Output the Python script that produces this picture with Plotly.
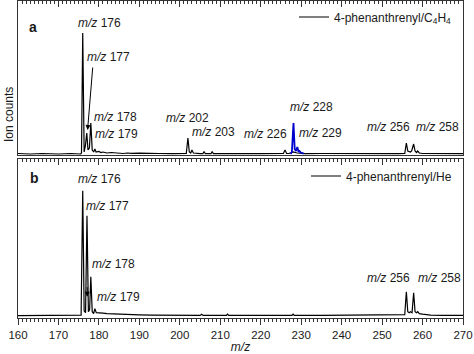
import plotly.graph_objects as go

# ---------------- data ----------------
# Panel a: 4-phenanthrenyl / C4H4 (black trace)
mz_a = [160, 163, 166, 170, 173, 175.5, 175.7, 176, 176.35, 176.65, 177, 177.3, 177.65, 178,
        178.35, 178.7, 179, 179.3, 180, 180.5, 181, 182, 183, 184, 185, 186, 187, 188, 190, 192,
        195, 198, 201.6, 202, 202.35, 202.7, 203, 203.35, 204, 205, 205.7, 206, 206.3, 207.7,
        208, 208.3, 210, 213, 216, 220, 224, 225.6, 226, 226.4, 227, 228, 229, 230, 231, 235,
        240, 245, 250, 254, 255.6, 256, 256.35, 256.7, 257, 257.3, 257.8, 258.15, 258.5, 258.8,
        259.2, 260, 265, 270]
counts_a = [0.5, 0, 0.5, 0, 0.5, 0, 1, 121, 2, 8, 21, 4, 6, 31,
            4, 2, 5, 2, 2.5, 1.5, 2, 1, 1.5, 1, 1.2, 0.5, 1, 0.6, 0.8, 0.4,
            0.5, 0.3, 0.5, 16, 2, 1, 4, 1, 0.5, 0.3, 0.3, 2.5, 0.3, 0.3,
            2.5, 0.3, 0.5, 0.2, 0.4, 0.3, 0.4, 0.5, 4, 0.5, 0.5, 2, 1, 0.5, 0.3, 0.5,
            0.3, 0.4, 0.3, 0.4, 0.5, 11, 3, 2, 2, 3, 10, 3, 1.5, 3,
            1, 0.5, 0.3, 0.3]

# Panel a: highlighted m/z 228-230 region (blue trace)
mz_a_blue = [227.4, 227.7, 228.1, 228.4, 228.7, 229.05, 229.35, 229.6, 229.9, 230.2, 230.6]
counts_a_blue = [0, 2, 31, 5, 3, 7, 2, 3, 1.5, 0.8, 0.3]

# Panel b: 4-phenanthrenyl / He
mz_b = [160, 165, 170, 175, 175.6, 176, 176.35, 176.7, 177.05, 177.4, 177.7, 178, 178.35, 178.7,
        179, 179.35, 180, 181, 182, 183, 184, 186, 188, 190, 193, 196, 200, 205, 205.4, 205.8,
        211.5, 211.8, 212.1, 220, 227.7, 228, 228.3, 235, 245, 250, 254, 255.6, 256, 256.35,
        256.7, 257, 257.4, 257.8, 258.15, 258.5, 258.8, 259.2, 260, 261, 262, 265, 270]
counts_b = [0, 0.3, 0, 0.3, 0.5, 125, 5, 3, 100, 4, 6, 39, 4, 2,
            7, 3, 3, 2.5, 2, 1.8, 1.5, 1.2, 1, 0.8, 0.6, 0.5, 0.3, 0.3, 1.5, 0.3,
            0.3, 1.5, 0.3, 0.3, 0.3, 1.5, 0.3, 0.3, 0.3, 0.3, 0.5, 1, 24, 4,
            3, 4, 3, 23, 4, 3, 4, 2, 1.5, 1, 0.5, 0.3, 0.3]

# peak labels: (m/z text, x position, y position)
labels_a = [("176", 180.2, 131), ("177", 182.3, 97), ("178", 184.0, 37), ("179", 184.4, 20),
            ("202", 202.0, 36), ("203", 208.4, 22), ("226", 221.2, 20), ("228", 232.5, 47),
            ("229", 234.8, 21), ("256", 251.7, 27), ("258", 263.8, 27)]
labels_b = [("176", 180.2, 137), ("177", 182.2, 110), ("178", 183.6, 52), ("179", 184.8, 19),
            ("256", 251.7, 38), ("258", 264.2, 38)]

legend_a = "4-phenanthrenyl/C<sub>4</sub>H<sub>4</sub>"
legend_b = "4-phenanthrenyl/He"

# ---------------- figure ----------------
FONT = "Liberation Sans, Arial, sans-serif"
TXT = "#1a1a1a"
AX = "#333333"

fig = go.Figure()
fig.add_trace(go.Scatter(x=mz_a, y=counts_a, mode="lines", name=legend_a,
                         line=dict(color="black", width=1.2), xaxis="x", yaxis="y",
                         legend="legend"))
fig.add_trace(go.Scatter(x=mz_a_blue, y=counts_a_blue, mode="lines", showlegend=False,
                         line=dict(color="#0000cc", width=1.8), xaxis="x", yaxis="y"))
fig.add_trace(go.Scatter(x=mz_b, y=counts_b, mode="lines", name=legend_b,
                         line=dict(color="black", width=1.2), xaxis="x2", yaxis="y2",
                         legend="legend2"))
# invisible traces so the top tick axes are drawn
fig.add_trace(go.Scatter(x=[160], y=[0], mode="markers", marker=dict(opacity=0),
                         showlegend=False, hoverinfo="skip", xaxis="x3", yaxis="y"))
fig.add_trace(go.Scatter(x=[160], y=[0], mode="markers", marker=dict(opacity=0),
                         showlegend=False, hoverinfo="skip", xaxis="x4", yaxis="y2"))

H = 354
t, b = 1, 36
plot_h = H - t - b
top_px = 318


def frac(py):
    return (top_px - py) / plot_h


xr = [160, 270]
common_x = dict(range=xr, showline=True, linecolor=AX, linewidth=1, showgrid=False,
                zeroline=False, dtick=10, tick0=160)

fig.update_layout(
    width=474, height=354,
    margin=dict(l=18, r=11, t=t, b=b),
    paper_bgcolor="white", plot_bgcolor="white",
    font=dict(family=FONT, size=12, color=TXT),
    xaxis=dict(**common_x, anchor="y", ticks="", showticklabels=False),
    xaxis3=dict(**common_x, anchor="y", overlaying="x", side="top", ticks="inside",
                ticklen=6, tickcolor=AX, showticklabels=False,
                minor=dict(dtick=1, ticks="inside", ticklen=3, tickcolor=AX)),
    xaxis2=dict(**common_x, anchor="y2", ticks="outside", ticklen=6, tickcolor=AX,
                tickfont=dict(size=11.5, color=TXT),
                minor=dict(dtick=1, ticks="outside", ticklen=3, tickcolor=AX),
                title=dict(text="<i>m/z</i>", font=dict(size=12, color=TXT), standoff=2)),
    xaxis4=dict(**common_x, anchor="y2", overlaying="x2", side="top", ticks="inside",
                ticklen=6, tickcolor=AX, showticklabels=False,
                minor=dict(dtick=1, ticks="inside", ticklen=3, tickcolor=AX)),
    yaxis=dict(domain=[frac(155), 1.0], range=[-1, 153], showline=True, mirror=True,
               linecolor=AX, linewidth=1, ticks="", showticklabels=False,
               showgrid=False, zeroline=False),
    yaxis2=dict(domain=[0, frac(159)], range=[-2.3, 156.7], showline=True, mirror=True,
                linecolor=AX, linewidth=1, ticks="", showticklabels=False,
                showgrid=False, zeroline=False),
    legend=dict(x=(457 - 18) / 445, xanchor="right", y=frac(17), yanchor="middle",
                bgcolor="rgba(0,0,0,0)", font=dict(size=12, color=TXT),
                tracegroupgap=0, itemwidth=30),
    legend2=dict(x=(457 - 18) / 445, xanchor="right", y=frac(176), yanchor="middle",
                 bgcolor="rgba(0,0,0,0)", font=dict(size=12, color=TXT),
                 tracegroupgap=0, itemwidth=30),
)

ann = []
for txt, x, y in labels_a:
    ann.append(dict(x=x, y=y, xref="x", yref="y", text="<i>m/z</i> " + txt,
                    showarrow=False, font=dict(size=12, color=TXT)))
for txt, x, y in labels_b:
    ann.append(dict(x=x, y=y, xref="x2", yref="y2", text="<i>m/z</i> " + txt,
                    showarrow=False, font=dict(size=12, color=TXT)))
# arrows
ann.append(dict(x=177.2, y=24, ax=178.5, ay=88, xref="x", yref="y", axref="x", ayref="y",
                text="", showarrow=True, arrowhead=2, arrowsize=1, arrowwidth=1,
                arrowcolor="black"))
ann.append(dict(x=177.1, y=19, ax=177.1, ay=30, xref="x2", yref="y2", axref="x2", ayref="y2",
                text="", showarrow=True, arrowhead=2, arrowsize=1, arrowwidth=1,
                arrowcolor="black"))
# panel letters
ann.append(dict(x=(27 - 18) / 445, y=frac(17), xref="paper", yref="paper", text="<b>a</b>",
                showarrow=False, font=dict(size=14, color=TXT)))
ann.append(dict(x=(28 - 18) / 445, y=frac(178), xref="paper", yref="paper", text="<b>b</b>",
                showarrow=False, font=dict(size=14, color=TXT)))
# y title
ann.append(dict(x=(0 - 18) / 445, y=frac(115), xref="paper", yref="paper", text="Ion counts",
                textangle=-90, showarrow=False, xanchor="left", yanchor="middle",
                font=dict(size=12, color=TXT)))
fig.update_layout(annotations=ann)

fig.write_html("out.html")
